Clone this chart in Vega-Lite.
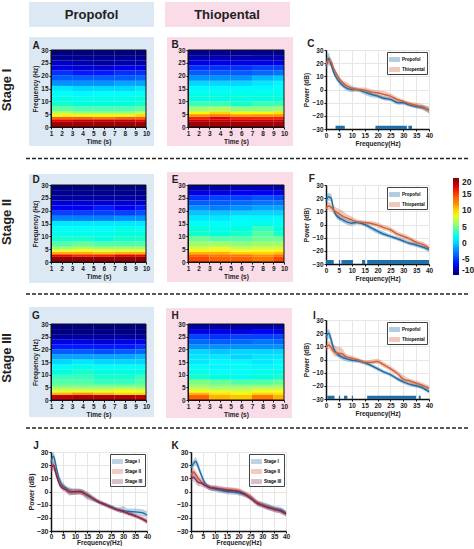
{
"$schema":"https://vega.github.io/schema/vega-lite/v6.json",
"padding":{"left":0,"top":2,"right":0,"bottom":0},
"background":"white",
"config":{
"view":{"stroke":null},
"range":{"heatmap":["#00007f","#0000ff","#007fff","#00ffff","#7fff7f","#ffff00","#ff7f00","#ff0000","#7f0000"]},
"axis":{"labelFont":"Liberation Sans","titleFont":"Liberation Sans","labelFontWeight":"bold","titleFontWeight":"bold","labelFontSize":6.5,"titleFontSize":6.5,"labelColor":"#222","titleColor":"#222","labelPadding":1,"tickSize":2,"titlePadding":2,"grid":false,"domainColor":"#111","tickColor":"#111","labelOverlap":false,"labelFlush":false,"gridColor":"#e6e6e6"},
"legend":{"labelFont":"Liberation Sans","labelFontWeight":"bold"},
"text":{"font":"Liberation Sans","fontWeight":"bold","color":"#222"}
},
"datasets":{
"A":[
{"t":1,"u":3,"f":0,"e":2,"v":19},{"t":3,"u":5,"f":0,"e":2,"v":19},{"t":5,"u":7,"f":0,"e":2,"v":19},{"t":7,"u":9,"f":0,"e":2,"v":19},{"t":9,"u":10,"f":0,"e":2,"v":19},
{"t":1,"u":3,"f":2,"e":3,"v":17},{"t":3,"u":5,"f":2,"e":3,"v":18},{"t":5,"u":7,"f":2,"e":3,"v":18},{"t":7,"u":9,"f":2,"e":3,"v":18},{"t":9,"u":10,"f":2,"e":3,"v":17},
{"t":1,"u":3,"f":3,"e":4,"v":14},{"t":3,"u":5,"f":3,"e":4,"v":14},{"t":5,"u":7,"f":3,"e":4,"v":13},{"t":7,"u":9,"f":3,"e":4,"v":14},{"t":9,"u":10,"f":3,"e":4,"v":14},
{"t":1,"u":3,"f":4,"e":5,"v":9},{"t":3,"u":5,"f":4,"e":5,"v":9},{"t":5,"u":7,"f":4,"e":5,"v":9},{"t":7,"u":9,"f":4,"e":5,"v":9},{"t":9,"u":10,"f":4,"e":5,"v":10},
{"t":1,"u":3,"f":5,"e":6,"v":7},{"t":3,"u":5,"f":5,"e":6,"v":6},{"t":5,"u":7,"f":5,"e":6,"v":6},{"t":7,"u":9,"f":5,"e":6,"v":6},{"t":9,"u":10,"f":5,"e":6,"v":7},
{"t":1,"u":3,"f":6,"e":8,"v":4.5},{"t":3,"u":5,"f":6,"e":8,"v":4},{"t":5,"u":7,"f":6,"e":8,"v":4},{"t":7,"u":9,"f":6,"e":8,"v":4},{"t":9,"u":10,"f":6,"e":8,"v":4.5},
{"t":1,"u":3,"f":8,"e":10,"v":3},{"t":3,"u":5,"f":8,"e":10,"v":2.5},{"t":5,"u":7,"f":8,"e":10,"v":2.5},{"t":7,"u":9,"f":8,"e":10,"v":2.5},{"t":9,"u":10,"f":8,"e":10,"v":3},
{"t":1,"u":3,"f":10,"e":12,"v":2},{"t":3,"u":5,"f":10,"e":12,"v":2},{"t":5,"u":7,"f":10,"e":12,"v":2},{"t":7,"u":9,"f":10,"e":12,"v":2},{"t":9,"u":10,"f":10,"e":12,"v":2.5},
{"t":1,"u":3,"f":12,"e":14,"v":1.5},{"t":3,"u":5,"f":12,"e":14,"v":1},{"t":5,"u":7,"f":12,"e":14,"v":1.5},{"t":7,"u":9,"f":12,"e":14,"v":1.5},{"t":9,"u":10,"f":12,"e":14,"v":1.5},
{"t":1,"u":3,"f":14,"e":16,"v":0.5},{"t":3,"u":5,"f":14,"e":16,"v":0},{"t":5,"u":7,"f":14,"e":16,"v":0},{"t":7,"u":9,"f":14,"e":16,"v":0},{"t":9,"u":10,"f":14,"e":16,"v":0.5},
{"t":1,"u":3,"f":16,"e":18,"v":-2},{"t":3,"u":5,"f":16,"e":18,"v":-2},{"t":5,"u":7,"f":16,"e":18,"v":-2},{"t":7,"u":9,"f":16,"e":18,"v":-1.5},{"t":9,"u":10,"f":16,"e":18,"v":-1.5},
{"t":1,"u":3,"f":18,"e":20,"v":-4},{"t":3,"u":5,"f":18,"e":20,"v":-4},{"t":5,"u":7,"f":18,"e":20,"v":-4},{"t":7,"u":9,"f":18,"e":20,"v":-4},{"t":9,"u":10,"f":18,"e":20,"v":-3.5},
{"t":1,"u":3,"f":20,"e":22,"v":-5.5},{"t":3,"u":5,"f":20,"e":22,"v":-6},{"t":5,"u":7,"f":20,"e":22,"v":-6},{"t":7,"u":9,"f":20,"e":22,"v":-5.5},{"t":9,"u":10,"f":20,"e":22,"v":-5.5},
{"t":1,"u":3,"f":22,"e":24,"v":-7},{"t":3,"u":5,"f":22,"e":24,"v":-7.5},{"t":5,"u":7,"f":22,"e":24,"v":-7.5},{"t":7,"u":9,"f":22,"e":24,"v":-7},{"t":9,"u":10,"f":22,"e":24,"v":-7},
{"t":1,"u":3,"f":24,"e":26,"v":-8},{"t":3,"u":5,"f":24,"e":26,"v":-8.5},{"t":5,"u":7,"f":24,"e":26,"v":-9},{"t":7,"u":9,"f":24,"e":26,"v":-8.5},{"t":9,"u":10,"f":24,"e":26,"v":-8.5},
{"t":1,"u":3,"f":26,"e":28,"v":-9.5},{"t":3,"u":5,"f":26,"e":28,"v":-9.5},{"t":5,"u":7,"f":26,"e":28,"v":-9.5},{"t":7,"u":9,"f":26,"e":28,"v":-9.5},{"t":9,"u":10,"f":26,"e":28,"v":-9.5},
{"t":1,"u":3,"f":28,"e":30,"v":-10},{"t":3,"u":5,"f":28,"e":30,"v":-10},{"t":5,"u":7,"f":28,"e":30,"v":-10},{"t":7,"u":9,"f":28,"e":30,"v":-10},{"t":9,"u":10,"f":28,"e":30,"v":-10}
],
"B":[
{"t":1,"u":3,"f":0,"e":2,"v":19},{"t":3,"u":5,"f":0,"e":2,"v":19},{"t":5,"u":7,"f":0,"e":2,"v":19},{"t":7,"u":9,"f":0,"e":2,"v":19},{"t":9,"u":10,"f":0,"e":2,"v":19},
{"t":1,"u":3,"f":2,"e":3,"v":18},{"t":3,"u":5,"f":2,"e":3,"v":18},{"t":5,"u":7,"f":2,"e":3,"v":18},{"t":7,"u":9,"f":2,"e":3,"v":18},{"t":9,"u":10,"f":2,"e":3,"v":18},
{"t":1,"u":3,"f":3,"e":4,"v":16},{"t":3,"u":5,"f":3,"e":4,"v":17},{"t":5,"u":7,"f":3,"e":4,"v":16},{"t":7,"u":9,"f":3,"e":4,"v":16},{"t":9,"u":10,"f":3,"e":4,"v":16},
{"t":1,"u":3,"f":4,"e":5,"v":12},{"t":3,"u":5,"f":4,"e":5,"v":13},{"t":5,"u":7,"f":4,"e":5,"v":12},{"t":7,"u":9,"f":4,"e":5,"v":12},{"t":9,"u":10,"f":4,"e":5,"v":12},
{"t":1,"u":3,"f":5,"e":6,"v":9},{"t":3,"u":5,"f":5,"e":6,"v":10},{"t":5,"u":7,"f":5,"e":6,"v":9},{"t":7,"u":9,"f":5,"e":6,"v":9},{"t":9,"u":10,"f":5,"e":6,"v":9.5},
{"t":1,"u":3,"f":6,"e":8,"v":6},{"t":3,"u":5,"f":6,"e":8,"v":6.5},{"t":5,"u":7,"f":6,"e":8,"v":5.5},{"t":7,"u":9,"f":6,"e":8,"v":5.5},{"t":9,"u":10,"f":6,"e":8,"v":6},
{"t":1,"u":3,"f":8,"e":10,"v":3.5},{"t":3,"u":5,"f":8,"e":10,"v":3.5},{"t":5,"u":7,"f":8,"e":10,"v":3},{"t":7,"u":9,"f":8,"e":10,"v":3.5},{"t":9,"u":10,"f":8,"e":10,"v":3.5},
{"t":1,"u":3,"f":10,"e":12,"v":2.5},{"t":3,"u":5,"f":10,"e":12,"v":2.5},{"t":5,"u":7,"f":10,"e":12,"v":2.5},{"t":7,"u":9,"f":10,"e":12,"v":2.5},{"t":9,"u":10,"f":10,"e":12,"v":2.5},
{"t":1,"u":3,"f":12,"e":14,"v":2},{"t":3,"u":5,"f":12,"e":14,"v":2},{"t":5,"u":7,"f":12,"e":14,"v":2},{"t":7,"u":9,"f":12,"e":14,"v":2},{"t":9,"u":10,"f":12,"e":14,"v":2},
{"t":1,"u":3,"f":14,"e":16,"v":1},{"t":3,"u":5,"f":14,"e":16,"v":1},{"t":5,"u":7,"f":14,"e":16,"v":1},{"t":7,"u":9,"f":14,"e":16,"v":1},{"t":9,"u":10,"f":14,"e":16,"v":1.5},
{"t":1,"u":3,"f":16,"e":18,"v":0},{"t":3,"u":5,"f":16,"e":18,"v":0},{"t":5,"u":7,"f":16,"e":18,"v":0},{"t":7,"u":9,"f":16,"e":18,"v":0.5},{"t":9,"u":10,"f":16,"e":18,"v":1},
{"t":1,"u":3,"f":18,"e":20,"v":-2},{"t":3,"u":5,"f":18,"e":20,"v":-2},{"t":5,"u":7,"f":18,"e":20,"v":-2},{"t":7,"u":9,"f":18,"e":20,"v":-1},{"t":9,"u":10,"f":18,"e":20,"v":-0.5},
{"t":1,"u":3,"f":20,"e":22,"v":-4},{"t":3,"u":5,"f":20,"e":22,"v":-4},{"t":5,"u":7,"f":20,"e":22,"v":-4},{"t":7,"u":9,"f":20,"e":22,"v":-3.5},{"t":9,"u":10,"f":20,"e":22,"v":-3},
{"t":1,"u":3,"f":22,"e":24,"v":-5.5},{"t":3,"u":5,"f":22,"e":24,"v":-5.5},{"t":5,"u":7,"f":22,"e":24,"v":-5.5},{"t":7,"u":9,"f":22,"e":24,"v":-5},{"t":9,"u":10,"f":22,"e":24,"v":-5},
{"t":1,"u":3,"f":24,"e":26,"v":-7},{"t":3,"u":5,"f":24,"e":26,"v":-7},{"t":5,"u":7,"f":24,"e":26,"v":-7},{"t":7,"u":9,"f":24,"e":26,"v":-7},{"t":9,"u":10,"f":24,"e":26,"v":-7},
{"t":1,"u":3,"f":26,"e":28,"v":-8.5},{"t":3,"u":5,"f":26,"e":28,"v":-8.5},{"t":5,"u":7,"f":26,"e":28,"v":-8.5},{"t":7,"u":9,"f":26,"e":28,"v":-8.5},{"t":9,"u":10,"f":26,"e":28,"v":-8.5},
{"t":1,"u":3,"f":28,"e":30,"v":-9.5},{"t":3,"u":5,"f":28,"e":30,"v":-9.5},{"t":5,"u":7,"f":28,"e":30,"v":-9.5},{"t":7,"u":9,"f":28,"e":30,"v":-9.5},{"t":9,"u":10,"f":28,"e":30,"v":-9.5}
],
"D":[
{"t":1,"u":3,"f":0,"e":2,"v":19.5},{"t":3,"u":5,"f":0,"e":2,"v":19.5},{"t":5,"u":7,"f":0,"e":2,"v":19.5},{"t":7,"u":9,"f":0,"e":2,"v":19.5},{"t":9,"u":10,"f":0,"e":2,"v":19.5},
{"t":1,"u":3,"f":2,"e":3,"v":16.5},{"t":3,"u":5,"f":2,"e":3,"v":16},{"t":5,"u":7,"f":2,"e":3,"v":16},{"t":7,"u":9,"f":2,"e":3,"v":17},{"t":9,"u":10,"f":2,"e":3,"v":16.5},
{"t":1,"u":3,"f":3,"e":4,"v":11},{"t":3,"u":5,"f":3,"e":4,"v":11},{"t":5,"u":7,"f":3,"e":4,"v":10.5},{"t":7,"u":9,"f":3,"e":4,"v":11},{"t":9,"u":10,"f":3,"e":4,"v":11},
{"t":1,"u":3,"f":4,"e":5,"v":8},{"t":3,"u":5,"f":4,"e":5,"v":8.5},{"t":5,"u":7,"f":4,"e":5,"v":8},{"t":7,"u":9,"f":4,"e":5,"v":8},{"t":9,"u":10,"f":4,"e":5,"v":8},
{"t":1,"u":3,"f":5,"e":6,"v":6},{"t":3,"u":5,"f":5,"e":6,"v":6.5},{"t":5,"u":7,"f":5,"e":6,"v":6},{"t":7,"u":9,"f":5,"e":6,"v":6},{"t":9,"u":10,"f":5,"e":6,"v":6},
{"t":1,"u":3,"f":6,"e":8,"v":4},{"t":3,"u":5,"f":6,"e":8,"v":4.5},{"t":5,"u":7,"f":6,"e":8,"v":4},{"t":7,"u":9,"f":6,"e":8,"v":4},{"t":9,"u":10,"f":6,"e":8,"v":4},
{"t":1,"u":3,"f":8,"e":10,"v":3},{"t":3,"u":5,"f":8,"e":10,"v":3},{"t":5,"u":7,"f":8,"e":10,"v":2.5},{"t":7,"u":9,"f":8,"e":10,"v":3},{"t":9,"u":10,"f":8,"e":10,"v":3},
{"t":1,"u":3,"f":10,"e":12,"v":2},{"t":3,"u":5,"f":10,"e":12,"v":2},{"t":5,"u":7,"f":10,"e":12,"v":2},{"t":7,"u":9,"f":10,"e":12,"v":2.5},{"t":9,"u":10,"f":10,"e":12,"v":2.5},
{"t":1,"u":3,"f":12,"e":14,"v":1.5},{"t":3,"u":5,"f":12,"e":14,"v":1.5},{"t":5,"u":7,"f":12,"e":14,"v":1.5},{"t":7,"u":9,"f":12,"e":14,"v":2},{"t":9,"u":10,"f":12,"e":14,"v":1.5},
{"t":1,"u":3,"f":14,"e":16,"v":0.5},{"t":3,"u":5,"f":14,"e":16,"v":0.5},{"t":5,"u":7,"f":14,"e":16,"v":0.5},{"t":7,"u":9,"f":14,"e":16,"v":0.5},{"t":9,"u":10,"f":14,"e":16,"v":0.5},
{"t":1,"u":3,"f":16,"e":18,"v":-2.5},{"t":3,"u":5,"f":16,"e":18,"v":-2.5},{"t":5,"u":7,"f":16,"e":18,"v":-2.5},{"t":7,"u":9,"f":16,"e":18,"v":-2},{"t":9,"u":10,"f":16,"e":18,"v":-2},
{"t":1,"u":3,"f":18,"e":20,"v":-5},{"t":3,"u":5,"f":18,"e":20,"v":-5},{"t":5,"u":7,"f":18,"e":20,"v":-5},{"t":7,"u":9,"f":18,"e":20,"v":-5},{"t":9,"u":10,"f":18,"e":20,"v":-4.5},
{"t":1,"u":3,"f":20,"e":22,"v":-6.5},{"t":3,"u":5,"f":20,"e":22,"v":-6.5},{"t":5,"u":7,"f":20,"e":22,"v":-6},{"t":7,"u":9,"f":20,"e":22,"v":-6.5},{"t":9,"u":10,"f":20,"e":22,"v":-6},
{"t":1,"u":3,"f":22,"e":24,"v":-7.5},{"t":3,"u":5,"f":22,"e":24,"v":-7.5},{"t":5,"u":7,"f":22,"e":24,"v":-7.5},{"t":7,"u":9,"f":22,"e":24,"v":-7.5},{"t":9,"u":10,"f":22,"e":24,"v":-7.5},
{"t":1,"u":3,"f":24,"e":26,"v":-9},{"t":3,"u":5,"f":24,"e":26,"v":-9},{"t":5,"u":7,"f":24,"e":26,"v":-9},{"t":7,"u":9,"f":24,"e":26,"v":-9},{"t":9,"u":10,"f":24,"e":26,"v":-9},
{"t":1,"u":3,"f":26,"e":28,"v":-9.5},{"t":3,"u":5,"f":26,"e":28,"v":-9.5},{"t":5,"u":7,"f":26,"e":28,"v":-9.5},{"t":7,"u":9,"f":26,"e":28,"v":-9.5},{"t":9,"u":10,"f":26,"e":28,"v":-9.5},
{"t":1,"u":3,"f":28,"e":30,"v":-10},{"t":3,"u":5,"f":28,"e":30,"v":-10},{"t":5,"u":7,"f":28,"e":30,"v":-10},{"t":7,"u":9,"f":28,"e":30,"v":-10},{"t":9,"u":10,"f":28,"e":30,"v":-10}
],
"E":[
{"t":1,"u":3,"f":0,"e":2,"v":15},{"t":3,"u":5,"f":0,"e":2,"v":14},{"t":5,"u":7,"f":0,"e":2,"v":14},{"t":7,"u":9,"f":0,"e":2,"v":13},{"t":9,"u":10,"f":0,"e":2,"v":15},
{"t":1,"u":3,"f":2,"e":3,"v":14},{"t":3,"u":5,"f":2,"e":3,"v":13},{"t":5,"u":7,"f":2,"e":3,"v":13},{"t":7,"u":9,"f":2,"e":3,"v":12},{"t":9,"u":10,"f":2,"e":3,"v":13},
{"t":1,"u":3,"f":3,"e":4,"v":11},{"t":3,"u":5,"f":3,"e":4,"v":11},{"t":5,"u":7,"f":3,"e":4,"v":10},{"t":7,"u":9,"f":3,"e":4,"v":10},{"t":9,"u":10,"f":3,"e":4,"v":10.5},
{"t":1,"u":3,"f":4,"e":5,"v":9},{"t":3,"u":5,"f":4,"e":5,"v":9},{"t":5,"u":7,"f":4,"e":5,"v":8.5},{"t":7,"u":9,"f":4,"e":5,"v":8.5},{"t":9,"u":10,"f":4,"e":5,"v":9},
{"t":1,"u":3,"f":5,"e":6,"v":7.5},{"t":3,"u":5,"f":5,"e":6,"v":8},{"t":5,"u":7,"f":5,"e":6,"v":7},{"t":7,"u":9,"f":5,"e":6,"v":7.5},{"t":9,"u":10,"f":5,"e":6,"v":7.5},
{"t":1,"u":3,"f":6,"e":8,"v":6},{"t":3,"u":5,"f":6,"e":8,"v":6},{"t":5,"u":7,"f":6,"e":8,"v":5.5},{"t":7,"u":9,"f":6,"e":8,"v":6},{"t":9,"u":10,"f":6,"e":8,"v":6},
{"t":1,"u":3,"f":8,"e":10,"v":4.5},{"t":3,"u":5,"f":8,"e":10,"v":4},{"t":5,"u":7,"f":8,"e":10,"v":4},{"t":7,"u":9,"f":8,"e":10,"v":4.5},{"t":9,"u":10,"f":8,"e":10,"v":4.5},
{"t":1,"u":3,"f":10,"e":12,"v":3},{"t":3,"u":5,"f":10,"e":12,"v":2.5},{"t":5,"u":7,"f":10,"e":12,"v":3},{"t":7,"u":9,"f":10,"e":12,"v":4},{"t":9,"u":10,"f":10,"e":12,"v":3},
{"t":1,"u":3,"f":12,"e":14,"v":2.5},{"t":3,"u":5,"f":12,"e":14,"v":2},{"t":5,"u":7,"f":12,"e":14,"v":2.5},{"t":7,"u":9,"f":12,"e":14,"v":3.5},{"t":9,"u":10,"f":12,"e":14,"v":2.5},
{"t":1,"u":3,"f":14,"e":16,"v":1.5},{"t":3,"u":5,"f":14,"e":16,"v":1.5},{"t":5,"u":7,"f":14,"e":16,"v":1.5},{"t":7,"u":9,"f":14,"e":16,"v":2},{"t":9,"u":10,"f":14,"e":16,"v":1.5},
{"t":1,"u":3,"f":16,"e":18,"v":0.5},{"t":3,"u":5,"f":16,"e":18,"v":0.5},{"t":5,"u":7,"f":16,"e":18,"v":1},{"t":7,"u":9,"f":16,"e":18,"v":1},{"t":9,"u":10,"f":16,"e":18,"v":1},
{"t":1,"u":3,"f":18,"e":20,"v":-0.5},{"t":3,"u":5,"f":18,"e":20,"v":-0.5},{"t":5,"u":7,"f":18,"e":20,"v":0},{"t":7,"u":9,"f":18,"e":20,"v":0},{"t":9,"u":10,"f":18,"e":20,"v":0},
{"t":1,"u":3,"f":20,"e":22,"v":-2},{"t":3,"u":5,"f":20,"e":22,"v":-2.5},{"t":5,"u":7,"f":20,"e":22,"v":-2},{"t":7,"u":9,"f":20,"e":22,"v":-1.5},{"t":9,"u":10,"f":20,"e":22,"v":-1.5},
{"t":1,"u":3,"f":22,"e":24,"v":-4},{"t":3,"u":5,"f":22,"e":24,"v":-4},{"t":5,"u":7,"f":22,"e":24,"v":-3.5},{"t":7,"u":9,"f":22,"e":24,"v":-3},{"t":9,"u":10,"f":22,"e":24,"v":-3},
{"t":1,"u":3,"f":24,"e":26,"v":-5.5},{"t":3,"u":5,"f":24,"e":26,"v":-5},{"t":5,"u":7,"f":24,"e":26,"v":-5},{"t":7,"u":9,"f":24,"e":26,"v":-4.5},{"t":9,"u":10,"f":24,"e":26,"v":-5},
{"t":1,"u":3,"f":26,"e":28,"v":-7},{"t":3,"u":5,"f":26,"e":28,"v":-7},{"t":5,"u":7,"f":26,"e":28,"v":-6.5},{"t":7,"u":9,"f":26,"e":28,"v":-6.5},{"t":9,"u":10,"f":26,"e":28,"v":-7},
{"t":1,"u":3,"f":28,"e":30,"v":-9},{"t":3,"u":5,"f":28,"e":30,"v":-9},{"t":5,"u":7,"f":28,"e":30,"v":-8.5},{"t":7,"u":9,"f":28,"e":30,"v":-8.5},{"t":9,"u":10,"f":28,"e":30,"v":-9}
],
"G":[
{"t":1,"u":3,"f":0,"e":2,"v":18},{"t":3,"u":5,"f":0,"e":2,"v":18.5},{"t":5,"u":7,"f":0,"e":2,"v":18.5},{"t":7,"u":9,"f":0,"e":2,"v":18.5},{"t":9,"u":10,"f":0,"e":2,"v":18},
{"t":1,"u":3,"f":2,"e":3,"v":11},{"t":3,"u":5,"f":2,"e":3,"v":12},{"t":5,"u":7,"f":2,"e":3,"v":11},{"t":7,"u":9,"f":2,"e":3,"v":10},{"t":9,"u":10,"f":2,"e":3,"v":10},
{"t":1,"u":3,"f":3,"e":4,"v":8},{"t":3,"u":5,"f":3,"e":4,"v":8},{"t":5,"u":7,"f":3,"e":4,"v":8},{"t":7,"u":9,"f":3,"e":4,"v":8.5},{"t":9,"u":10,"f":3,"e":4,"v":8},
{"t":1,"u":3,"f":4,"e":5,"v":6.5},{"t":3,"u":5,"f":4,"e":5,"v":6.5},{"t":5,"u":7,"f":4,"e":5,"v":6.5},{"t":7,"u":9,"f":4,"e":5,"v":7},{"t":9,"u":10,"f":4,"e":5,"v":6.5},
{"t":1,"u":3,"f":5,"e":6,"v":5},{"t":3,"u":5,"f":5,"e":6,"v":5},{"t":5,"u":7,"f":5,"e":6,"v":5},{"t":7,"u":9,"f":5,"e":6,"v":5},{"t":9,"u":10,"f":5,"e":6,"v":5},
{"t":1,"u":3,"f":6,"e":8,"v":4},{"t":3,"u":5,"f":6,"e":8,"v":4},{"t":5,"u":7,"f":6,"e":8,"v":3.5},{"t":7,"u":9,"f":6,"e":8,"v":3.5},{"t":9,"u":10,"f":6,"e":8,"v":4},
{"t":1,"u":3,"f":8,"e":10,"v":3.5},{"t":3,"u":5,"f":8,"e":10,"v":3.5},{"t":5,"u":7,"f":8,"e":10,"v":3},{"t":7,"u":9,"f":8,"e":10,"v":3},{"t":9,"u":10,"f":8,"e":10,"v":3.5},
{"t":1,"u":3,"f":10,"e":12,"v":2.5},{"t":3,"u":5,"f":10,"e":12,"v":3},{"t":5,"u":7,"f":10,"e":12,"v":2.5},{"t":7,"u":9,"f":10,"e":12,"v":2.5},{"t":9,"u":10,"f":10,"e":12,"v":2.5},
{"t":1,"u":3,"f":12,"e":14,"v":1.5},{"t":3,"u":5,"f":12,"e":14,"v":2},{"t":5,"u":7,"f":12,"e":14,"v":1.5},{"t":7,"u":9,"f":12,"e":14,"v":1.5},{"t":9,"u":10,"f":12,"e":14,"v":1.5},
{"t":1,"u":3,"f":14,"e":16,"v":0},{"t":3,"u":5,"f":14,"e":16,"v":0.5},{"t":5,"u":7,"f":14,"e":16,"v":0},{"t":7,"u":9,"f":14,"e":16,"v":0},{"t":9,"u":10,"f":14,"e":16,"v":0},
{"t":1,"u":3,"f":16,"e":18,"v":-1.5},{"t":3,"u":5,"f":16,"e":18,"v":-1.5},{"t":5,"u":7,"f":16,"e":18,"v":-1.5},{"t":7,"u":9,"f":16,"e":18,"v":-1.5},{"t":9,"u":10,"f":16,"e":18,"v":-1},
{"t":1,"u":3,"f":18,"e":20,"v":-4},{"t":3,"u":5,"f":18,"e":20,"v":-4},{"t":5,"u":7,"f":18,"e":20,"v":-4.5},{"t":7,"u":9,"f":18,"e":20,"v":-4},{"t":9,"u":10,"f":18,"e":20,"v":-3.5},
{"t":1,"u":3,"f":20,"e":22,"v":-6},{"t":3,"u":5,"f":20,"e":22,"v":-6},{"t":5,"u":7,"f":20,"e":22,"v":-6},{"t":7,"u":9,"f":20,"e":22,"v":-6},{"t":9,"u":10,"f":20,"e":22,"v":-5.5},
{"t":1,"u":3,"f":22,"e":24,"v":-7},{"t":3,"u":5,"f":22,"e":24,"v":-7},{"t":5,"u":7,"f":22,"e":24,"v":-7.5},{"t":7,"u":9,"f":22,"e":24,"v":-7},{"t":9,"u":10,"f":22,"e":24,"v":-7},
{"t":1,"u":3,"f":24,"e":26,"v":-9},{"t":3,"u":5,"f":24,"e":26,"v":-9},{"t":5,"u":7,"f":24,"e":26,"v":-9},{"t":7,"u":9,"f":24,"e":26,"v":-9},{"t":9,"u":10,"f":24,"e":26,"v":-9},
{"t":1,"u":3,"f":26,"e":28,"v":-10},{"t":3,"u":5,"f":26,"e":28,"v":-10},{"t":5,"u":7,"f":26,"e":28,"v":-10},{"t":7,"u":9,"f":26,"e":28,"v":-10},{"t":9,"u":10,"f":26,"e":28,"v":-10},
{"t":1,"u":3,"f":28,"e":30,"v":-10},{"t":3,"u":5,"f":28,"e":30,"v":-10},{"t":5,"u":7,"f":28,"e":30,"v":-10},{"t":7,"u":9,"f":28,"e":30,"v":-10},{"t":9,"u":10,"f":28,"e":30,"v":-10}
],
"H":[
{"t":1,"u":3,"f":0,"e":2,"v":14},{"t":3,"u":5,"f":0,"e":2,"v":11},{"t":5,"u":7,"f":0,"e":2,"v":10.5},{"t":7,"u":9,"f":0,"e":2,"v":13},{"t":9,"u":10,"f":0,"e":2,"v":11},
{"t":1,"u":3,"f":2,"e":3,"v":11},{"t":3,"u":5,"f":2,"e":3,"v":9.5},{"t":5,"u":7,"f":2,"e":3,"v":9},{"t":7,"u":9,"f":2,"e":3,"v":10},{"t":9,"u":10,"f":2,"e":3,"v":9.5},
{"t":1,"u":3,"f":3,"e":4,"v":8.5},{"t":3,"u":5,"f":3,"e":4,"v":8},{"t":5,"u":7,"f":3,"e":4,"v":7.5},{"t":7,"u":9,"f":3,"e":4,"v":8.5},{"t":9,"u":10,"f":3,"e":4,"v":8.5},
{"t":1,"u":3,"f":4,"e":5,"v":7},{"t":3,"u":5,"f":4,"e":5,"v":6.5},{"t":5,"u":7,"f":4,"e":5,"v":6.5},{"t":7,"u":9,"f":4,"e":5,"v":7},{"t":9,"u":10,"f":4,"e":5,"v":7},
{"t":1,"u":3,"f":5,"e":6,"v":6},{"t":3,"u":5,"f":5,"e":6,"v":5.5},{"t":5,"u":7,"f":5,"e":6,"v":5.5},{"t":7,"u":9,"f":5,"e":6,"v":5.5},{"t":9,"u":10,"f":5,"e":6,"v":6},
{"t":1,"u":3,"f":6,"e":8,"v":5},{"t":3,"u":5,"f":6,"e":8,"v":4.5},{"t":5,"u":7,"f":6,"e":8,"v":4},{"t":7,"u":9,"f":6,"e":8,"v":4},{"t":9,"u":10,"f":6,"e":8,"v":4.5},
{"t":1,"u":3,"f":8,"e":10,"v":3},{"t":3,"u":5,"f":8,"e":10,"v":2.5},{"t":5,"u":7,"f":8,"e":10,"v":2},{"t":7,"u":9,"f":8,"e":10,"v":2.5},{"t":9,"u":10,"f":8,"e":10,"v":3},
{"t":1,"u":3,"f":10,"e":12,"v":2},{"t":3,"u":5,"f":10,"e":12,"v":1.5},{"t":5,"u":7,"f":10,"e":12,"v":1.5},{"t":7,"u":9,"f":10,"e":12,"v":2},{"t":9,"u":10,"f":10,"e":12,"v":2},
{"t":1,"u":3,"f":12,"e":14,"v":1.5},{"t":3,"u":5,"f":12,"e":14,"v":1},{"t":5,"u":7,"f":12,"e":14,"v":1.5},{"t":7,"u":9,"f":12,"e":14,"v":1},{"t":9,"u":10,"f":12,"e":14,"v":1.5},
{"t":1,"u":3,"f":14,"e":16,"v":0.5},{"t":3,"u":5,"f":14,"e":16,"v":1},{"t":5,"u":7,"f":14,"e":16,"v":1},{"t":7,"u":9,"f":14,"e":16,"v":0.5},{"t":9,"u":10,"f":14,"e":16,"v":1},
{"t":1,"u":3,"f":16,"e":18,"v":0.5},{"t":3,"u":5,"f":16,"e":18,"v":0.5},{"t":5,"u":7,"f":16,"e":18,"v":0},{"t":7,"u":9,"f":16,"e":18,"v":0.5},{"t":9,"u":10,"f":16,"e":18,"v":0.5},
{"t":1,"u":3,"f":18,"e":20,"v":0},{"t":3,"u":5,"f":18,"e":20,"v":-0.5},{"t":5,"u":7,"f":18,"e":20,"v":0},{"t":7,"u":9,"f":18,"e":20,"v":0},{"t":9,"u":10,"f":18,"e":20,"v":0},
{"t":1,"u":3,"f":20,"e":22,"v":-2},{"t":3,"u":5,"f":20,"e":22,"v":-2},{"t":5,"u":7,"f":20,"e":22,"v":-2},{"t":7,"u":9,"f":20,"e":22,"v":-2},{"t":9,"u":10,"f":20,"e":22,"v":-2},
{"t":1,"u":3,"f":22,"e":24,"v":-3.5},{"t":3,"u":5,"f":22,"e":24,"v":-4},{"t":5,"u":7,"f":22,"e":24,"v":-3.5},{"t":7,"u":9,"f":22,"e":24,"v":-3},{"t":9,"u":10,"f":22,"e":24,"v":-3.5},
{"t":1,"u":3,"f":24,"e":26,"v":-5},{"t":3,"u":5,"f":24,"e":26,"v":-5.5},{"t":5,"u":7,"f":24,"e":26,"v":-5},{"t":7,"u":9,"f":24,"e":26,"v":-5},{"t":9,"u":10,"f":24,"e":26,"v":-5},
{"t":1,"u":3,"f":26,"e":28,"v":-7},{"t":3,"u":5,"f":26,"e":28,"v":-7},{"t":5,"u":7,"f":26,"e":28,"v":-7},{"t":7,"u":9,"f":26,"e":28,"v":-6.5},{"t":9,"u":10,"f":26,"e":28,"v":-7},
{"t":1,"u":3,"f":28,"e":30,"v":-9},{"t":3,"u":5,"f":28,"e":30,"v":-9},{"t":5,"u":7,"f":28,"e":30,"v":-9},{"t":7,"u":9,"f":28,"e":30,"v":-9},{"t":9,"u":10,"f":28,"e":30,"v":-9}
],
"C":[
{"f":0,"s":"Propofol","p":18,"l":15,"h":22},{"f":1,"s":"Propofol","p":23.5,"l":20,"h":28},{"f":2,"s":"Propofol","p":19,"l":16,"h":22},{"f":3,"s":"Propofol","p":13,"l":11,"h":15},{"f":4,"s":"Propofol","p":9,"l":7,"h":11},{"f":6,"s":"Propofol","p":4,"l":2,"h":6},{"f":8,"s":"Propofol","p":1,"l":-1,"h":3},{"f":10,"s":"Propofol","p":0,"l":-2,"h":2},{"f":12,"s":"Propofol","p":0,"l":-1.5,"h":1.5},{"f":15,"s":"Propofol","p":-2,"l":-4,"h":0},{"f":18,"s":"Propofol","p":-4,"l":-6,"h":-2.5},{"f":20,"s":"Propofol","p":-5,"l":-6.5,"h":-3.5},{"f":22,"s":"Propofol","p":-6.5,"l":-8,"h":-5},{"f":25,"s":"Propofol","p":-7.5,"l":-9,"h":-6},{"f":28,"s":"Propofol","p":-10,"l":-11.5,"h":-8.5},{"f":30,"s":"Propofol","p":-10,"l":-11.5,"h":-8.5},{"f":32,"s":"Propofol","p":-11.5,"l":-13,"h":-10},{"f":35,"s":"Propofol","p":-13,"l":-14.5,"h":-11.5},{"f":38,"s":"Propofol","p":-14,"l":-16,"h":-12},{"f":40,"s":"Propofol","p":-15.5,"l":-18,"h":-13},
{"f":0,"s":"Thiopental","p":19,"l":15,"h":22},{"f":1,"s":"Thiopental","p":22,"l":18,"h":25},{"f":2,"s":"Thiopental","p":21,"l":18,"h":24},{"f":3,"s":"Thiopental","p":16,"l":14,"h":18},{"f":4,"s":"Thiopental","p":12,"l":10,"h":14},{"f":6,"s":"Thiopental","p":6,"l":4,"h":8},{"f":8,"s":"Thiopental","p":3,"l":1,"h":5.5},{"f":10,"s":"Thiopental","p":1,"l":-1,"h":3},{"f":12,"s":"Thiopental","p":0,"l":-1.5,"h":1.5},{"f":15,"s":"Thiopental","p":-0.5,"l":-2,"h":1.5},{"f":18,"s":"Thiopental","p":-2,"l":-4,"h":0},{"f":20,"s":"Thiopental","p":-2.5,"l":-4.5,"h":-0.5},{"f":22,"s":"Thiopental","p":-3.5,"l":-6,"h":-1},{"f":25,"s":"Thiopental","p":-5,"l":-7,"h":-3},{"f":28,"s":"Thiopental","p":-8,"l":-10,"h":-6},{"f":30,"s":"Thiopental","p":-9,"l":-11,"h":-7.5},{"f":32,"s":"Thiopental","p":-10.5,"l":-12.5,"h":-9},{"f":35,"s":"Thiopental","p":-12,"l":-14,"h":-10},{"f":38,"s":"Thiopental","p":-13.5,"l":-15.5,"h":-11.5},{"f":40,"s":"Thiopental","p":-16,"l":-18.5,"h":-14}
],
"F":[
{"f":0,"s":"Propofol","p":18,"l":15,"h":21},{"f":1,"s":"Propofol","p":21,"l":18,"h":24},{"f":2,"s":"Propofol","p":20,"l":17,"h":23},{"f":3,"s":"Propofol","p":11,"l":9,"h":13},{"f":4,"s":"Propofol","p":7,"l":5,"h":9},{"f":6,"s":"Propofol","p":4,"l":2,"h":6},{"f":8,"s":"Propofol","p":2,"l":0,"h":4},{"f":10,"s":"Propofol","p":1,"l":-1,"h":3},{"f":12,"s":"Propofol","p":1.5,"l":0,"h":3},{"f":15,"s":"Propofol","p":0,"l":-1.5,"h":1.5},{"f":18,"s":"Propofol","p":-3,"l":-5,"h":-1.5},{"f":20,"s":"Propofol","p":-5,"l":-7,"h":-3.5},{"f":22,"s":"Propofol","p":-7,"l":-8.5,"h":-5},{"f":25,"s":"Propofol","p":-9,"l":-10.5,"h":-7.5},{"f":28,"s":"Propofol","p":-11,"l":-12.5,"h":-9.5},{"f":30,"s":"Propofol","p":-12.5,"l":-14,"h":-11},{"f":32,"s":"Propofol","p":-14,"l":-15.5,"h":-12.5},{"f":35,"s":"Propofol","p":-15.5,"l":-17,"h":-14},{"f":38,"s":"Propofol","p":-17.5,"l":-19,"h":-16},{"f":40,"s":"Propofol","p":-19,"l":-21,"h":-17},
{"f":0,"s":"Thiopental","p":12,"l":9,"h":15},{"f":1,"s":"Thiopental","p":14,"l":11,"h":17},{"f":2,"s":"Thiopental","p":13,"l":10,"h":16},{"f":3,"s":"Thiopental","p":11,"l":8,"h":14},{"f":4,"s":"Thiopental","p":9.5,"l":7,"h":13},{"f":6,"s":"Thiopental","p":7,"l":4.5,"h":11},{"f":8,"s":"Thiopental","p":5,"l":3,"h":8},{"f":10,"s":"Thiopental","p":3.5,"l":1.5,"h":6},{"f":12,"s":"Thiopental","p":2,"l":0.5,"h":4},{"f":15,"s":"Thiopental","p":1.5,"l":0,"h":3},{"f":18,"s":"Thiopental","p":0.5,"l":-1,"h":2.5},{"f":20,"s":"Thiopental","p":-0.5,"l":-2.5,"h":1.5},{"f":22,"s":"Thiopental","p":-2,"l":-4,"h":0},{"f":25,"s":"Thiopental","p":-4,"l":-6,"h":-2},{"f":28,"s":"Thiopental","p":-7.5,"l":-9.5,"h":-5.5},{"f":30,"s":"Thiopental","p":-9,"l":-11,"h":-7},{"f":32,"s":"Thiopental","p":-10.5,"l":-12.5,"h":-8.5},{"f":35,"s":"Thiopental","p":-13.5,"l":-15.5,"h":-11.5},{"f":38,"s":"Thiopental","p":-15.5,"l":-17.5,"h":-13.5},{"f":40,"s":"Thiopental","p":-18,"l":-20,"h":-16}
],
"I":[
{"f":0,"s":"Propofol","p":17,"l":13,"h":20},{"f":1,"s":"Propofol","p":20,"l":16,"h":23},{"f":2,"s":"Propofol","p":15,"l":12,"h":19},{"f":3,"s":"Propofol","p":8,"l":6,"h":11},{"f":4,"s":"Propofol","p":5,"l":3,"h":7},{"f":6,"s":"Propofol","p":2,"l":0,"h":4},{"f":8,"s":"Propofol","p":0.5,"l":-1.5,"h":2.5},{"f":10,"s":"Propofol","p":-0.5,"l":-2,"h":1},{"f":12,"s":"Propofol","p":-1,"l":-2.5,"h":0.5},{"f":15,"s":"Propofol","p":-2.5,"l":-4,"h":-1},{"f":18,"s":"Propofol","p":-5,"l":-6.5,"h":-3.5},{"f":20,"s":"Propofol","p":-7,"l":-8.5,"h":-5.5},{"f":22,"s":"Propofol","p":-9,"l":-10.5,"h":-7.5},{"f":25,"s":"Propofol","p":-11.5,"l":-13,"h":-10},{"f":28,"s":"Propofol","p":-15,"l":-16.5,"h":-13.5},{"f":30,"s":"Propofol","p":-17,"l":-18.5,"h":-15.5},{"f":32,"s":"Propofol","p":-18.5,"l":-20,"h":-17},{"f":35,"s":"Propofol","p":-20,"l":-21.5,"h":-18.5},{"f":38,"s":"Propofol","p":-22,"l":-23.5,"h":-20.5},{"f":40,"s":"Propofol","p":-24.5,"l":-26,"h":-23},
{"f":0,"s":"Thiopental","p":9,"l":6,"h":12},{"f":1,"s":"Thiopental","p":11,"l":8,"h":14},{"f":2,"s":"Thiopental","p":9,"l":6,"h":13},{"f":3,"s":"Thiopental","p":6,"l":3,"h":11},{"f":4,"s":"Thiopental","p":5,"l":2,"h":10},{"f":6,"s":"Thiopental","p":4.5,"l":2,"h":9},{"f":8,"s":"Thiopental","p":2,"l":0,"h":4},{"f":10,"s":"Thiopental","p":1,"l":-1,"h":3},{"f":12,"s":"Thiopental","p":0,"l":-1.5,"h":1.5},{"f":15,"s":"Thiopental","p":-2,"l":-3.5,"h":-0.5},{"f":18,"s":"Thiopental","p":-2,"l":-3.5,"h":0},{"f":20,"s":"Thiopental","p":-1.5,"l":-3.5,"h":0.5},{"f":22,"s":"Thiopental","p":-3.5,"l":-5.5,"h":-1.5},{"f":25,"s":"Thiopental","p":-7,"l":-9,"h":-5},{"f":28,"s":"Thiopental","p":-11,"l":-13,"h":-9},{"f":30,"s":"Thiopental","p":-15,"l":-17,"h":-12},{"f":32,"s":"Thiopental","p":-16,"l":-18,"h":-14},{"f":35,"s":"Thiopental","p":-18,"l":-20,"h":-16},{"f":38,"s":"Thiopental","p":-20,"l":-22,"h":-18},{"f":40,"s":"Thiopental","p":-22,"l":-24,"h":-20}
],
"J":[
{"f":0,"s":"Stage I","p":22,"l":18,"h":26},{"f":1,"s":"Stage I","p":27,"l":23,"h":30},{"f":2,"s":"Stage I","p":20,"l":17,"h":24},{"f":3,"s":"Stage I","p":12,"l":10,"h":15},{"f":4,"s":"Stage I","p":7,"l":5,"h":10},{"f":6,"s":"Stage I","p":3,"l":1,"h":5},{"f":8,"s":"Stage I","p":0.5,"l":-2,"h":3},{"f":10,"s":"Stage I","p":-0.5,"l":-2.5,"h":1.5},{"f":12,"s":"Stage I","p":0,"l":-2,"h":2},{"f":15,"s":"Stage I","p":-2.5,"l":-6,"h":-0.5},{"f":18,"s":"Stage I","p":-6,"l":-8,"h":-4},{"f":20,"s":"Stage I","p":-8,"l":-9.5,"h":-6.5},{"f":22,"s":"Stage I","p":-9.5,"l":-11,"h":-8},{"f":25,"s":"Stage I","p":-11.5,"l":-13,"h":-10},{"f":28,"s":"Stage I","p":-14,"l":-15.5,"h":-12},{"f":30,"s":"Stage I","p":-14.5,"l":-16.5,"h":-11},{"f":32,"s":"Stage I","p":-15,"l":-17,"h":-13},{"f":35,"s":"Stage I","p":-15.5,"l":-18,"h":-13},{"f":38,"s":"Stage I","p":-16,"l":-19,"h":-13.5},{"f":40,"s":"Stage I","p":-18,"l":-20,"h":-15},
{"f":0,"s":"Stage II","p":18,"l":14,"h":21},{"f":1,"s":"Stage II","p":20,"l":17,"h":23},{"f":2,"s":"Stage II","p":15,"l":12,"h":18},{"f":3,"s":"Stage II","p":9,"l":7,"h":11},{"f":4,"s":"Stage II","p":5,"l":3,"h":7},{"f":6,"s":"Stage II","p":2,"l":0,"h":4},{"f":8,"s":"Stage II","p":0,"l":-2.5,"h":2},{"f":10,"s":"Stage II","p":-0.5,"l":-2.5,"h":1.5},{"f":12,"s":"Stage II","p":-0.5,"l":-2.5,"h":1.5},{"f":15,"s":"Stage II","p":-3,"l":-5,"h":-1},{"f":18,"s":"Stage II","p":-6,"l":-7.5,"h":-4.5},{"f":20,"s":"Stage II","p":-8,"l":-9.5,"h":-6.5},{"f":22,"s":"Stage II","p":-9.5,"l":-11,"h":-8},{"f":25,"s":"Stage II","p":-12,"l":-13.5,"h":-10.5},{"f":28,"s":"Stage II","p":-14,"l":-15.5,"h":-12.5},{"f":30,"s":"Stage II","p":-15,"l":-16.5,"h":-13.5},{"f":32,"s":"Stage II","p":-16.5,"l":-18,"h":-15},{"f":35,"s":"Stage II","p":-18.5,"l":-20,"h":-17},{"f":38,"s":"Stage II","p":-20.5,"l":-22,"h":-19},{"f":40,"s":"Stage II","p":-22.5,"l":-24,"h":-21},
{"f":0,"s":"Stage III","p":18,"l":14,"h":21},{"f":1,"s":"Stage III","p":20,"l":16,"h":23},{"f":2,"s":"Stage III","p":14,"l":11,"h":17},{"f":3,"s":"Stage III","p":8,"l":6,"h":10},{"f":4,"s":"Stage III","p":4,"l":2,"h":6},{"f":6,"s":"Stage III","p":1.5,"l":-0.5,"h":3.5},{"f":8,"s":"Stage III","p":-0.5,"l":-3,"h":2},{"f":10,"s":"Stage III","p":0,"l":-2,"h":2.5},{"f":12,"s":"Stage III","p":0,"l":-2,"h":2},{"f":15,"s":"Stage III","p":-2.5,"l":-4.5,"h":0},{"f":18,"s":"Stage III","p":-6,"l":-7.5,"h":-4},{"f":20,"s":"Stage III","p":-8,"l":-9.5,"h":-6.5},{"f":22,"s":"Stage III","p":-9.5,"l":-11,"h":-8},{"f":25,"s":"Stage III","p":-12,"l":-13.5,"h":-10.5},{"f":28,"s":"Stage III","p":-14,"l":-15.5,"h":-12.5},{"f":30,"s":"Stage III","p":-15,"l":-16.5,"h":-13.5},{"f":32,"s":"Stage III","p":-16.5,"l":-18,"h":-15},{"f":35,"s":"Stage III","p":-18.5,"l":-20,"h":-17},{"f":38,"s":"Stage III","p":-21,"l":-22.5,"h":-19.5},{"f":40,"s":"Stage III","p":-23,"l":-25,"h":-21}
],
"K":[
{"f":0,"s":"Stage I","p":18,"l":15,"h":21},{"f":1,"s":"Stage I","p":21,"l":18,"h":24},{"f":2,"s":"Stage I","p":23,"l":20,"h":26},{"f":3,"s":"Stage I","p":19,"l":16,"h":22},{"f":4,"s":"Stage I","p":14,"l":12,"h":17},{"f":6,"s":"Stage I","p":6,"l":4,"h":8},{"f":8,"s":"Stage I","p":3,"l":1,"h":5},{"f":10,"s":"Stage I","p":2,"l":0,"h":4},{"f":12,"s":"Stage I","p":1,"l":-1,"h":3},{"f":15,"s":"Stage I","p":0,"l":-2,"h":2},{"f":18,"s":"Stage I","p":-0.5,"l":-2.5,"h":1.5},{"f":20,"s":"Stage I","p":-1,"l":-3,"h":1},{"f":22,"s":"Stage I","p":-2,"l":-4,"h":0},{"f":25,"s":"Stage I","p":-4,"l":-6,"h":-2},{"f":28,"s":"Stage I","p":-9,"l":-11,"h":-7},{"f":30,"s":"Stage I","p":-10,"l":-12,"h":-8},{"f":32,"s":"Stage I","p":-11,"l":-13,"h":-9},{"f":35,"s":"Stage I","p":-13,"l":-15,"h":-11},{"f":38,"s":"Stage I","p":-14,"l":-16,"h":-12},{"f":40,"s":"Stage I","p":-16.5,"l":-18.5,"h":-14.5},
{"f":0,"s":"Stage II","p":12,"l":9,"h":15},{"f":1,"s":"Stage II","p":15,"l":12,"h":18},{"f":2,"s":"Stage II","p":13,"l":10,"h":16},{"f":3,"s":"Stage II","p":10,"l":7,"h":13},{"f":4,"s":"Stage II","p":8,"l":6,"h":11},{"f":6,"s":"Stage II","p":5,"l":3,"h":7},{"f":8,"s":"Stage II","p":3,"l":1,"h":5},{"f":10,"s":"Stage II","p":2.5,"l":0.5,"h":4.5},{"f":12,"s":"Stage II","p":2,"l":0,"h":4},{"f":15,"s":"Stage II","p":1.5,"l":-0.5,"h":3.5},{"f":18,"s":"Stage II","p":1,"l":-1,"h":3},{"f":20,"s":"Stage II","p":0.5,"l":-1.5,"h":2.5},{"f":22,"s":"Stage II","p":-1,"l":-3,"h":1},{"f":25,"s":"Stage II","p":-4,"l":-6,"h":-2},{"f":28,"s":"Stage II","p":-8.5,"l":-10.5,"h":-6.5},{"f":30,"s":"Stage II","p":-10,"l":-12,"h":-8},{"f":32,"s":"Stage II","p":-11.5,"l":-13.5,"h":-9.5},{"f":35,"s":"Stage II","p":-13.5,"l":-15.5,"h":-11.5},{"f":38,"s":"Stage II","p":-15,"l":-17,"h":-13},{"f":40,"s":"Stage II","p":-17,"l":-19,"h":-15},
{"f":0,"s":"Stage III","p":9,"l":6,"h":12},{"f":1,"s":"Stage III","p":11,"l":8,"h":15},{"f":2,"s":"Stage III","p":9,"l":6,"h":13},{"f":3,"s":"Stage III","p":7,"l":4,"h":11},{"f":4,"s":"Stage III","p":6.5,"l":4,"h":9},{"f":6,"s":"Stage III","p":4.5,"l":2.5,"h":6.5},{"f":8,"s":"Stage III","p":3,"l":1,"h":5},{"f":10,"s":"Stage III","p":2.5,"l":0.5,"h":4.5},{"f":12,"s":"Stage III","p":2,"l":0,"h":4},{"f":15,"s":"Stage III","p":1,"l":-1,"h":3},{"f":18,"s":"Stage III","p":0.5,"l":-1.5,"h":2.5},{"f":20,"s":"Stage III","p":0,"l":-2,"h":2},{"f":22,"s":"Stage III","p":-1.5,"l":-3.5,"h":0.5},{"f":25,"s":"Stage III","p":-5,"l":-7,"h":-3},{"f":28,"s":"Stage III","p":-9,"l":-11,"h":-7},{"f":30,"s":"Stage III","p":-10.5,"l":-12.5,"h":-8.5},{"f":32,"s":"Stage III","p":-12,"l":-14,"h":-10},{"f":35,"s":"Stage III","p":-13.5,"l":-15.5,"h":-11.5},{"f":38,"s":"Stage III","p":-15,"l":-17,"h":-13},{"f":40,"s":"Stage III","p":-17,"l":-19,"h":-15}
]
},
"resolve":{"scale":{"color":"independent"},"legend":{"color":"independent"}},
"vconcat":[
{"hconcat":[
{"width":95,"height":77,
"encoding":{"x":{"field":"t","type":"quantitative","scale":{"domain":[1,10],"nice":false},"axis":{"values":[1,2,3,4,5,6,7,8,9,10],"title":"Time (s)","zindex":1}},"y":{"field":"f","type":"quantitative","scale":{"domain":[0,30],"nice":false},"axis":{"values":[0,5,10,15,20,25,30],"title":"Frequency (Hz)","zindex":1}}},
"layer":[
{"data":{"values":[{"t":-1.08,"u":10.76,"f":35.06,"e":-7.4},{"t":-1.08,"u":10.76,"f":48.7,"e":38.96}]},"mark":{"type":"rect","color":"#dce9f4"},"encoding":{"x2":{"field":"u"},"y2":{"field":"e"}}},
{"data":{"name":"A"},"mark":"rect","encoding":{"x2":{"field":"u"},"y2":{"field":"e"},"color":{"field":"v","type":"quantitative","scale":{"domain":[-10,20]},"legend":null}}},
{"data":{"values":[{"t":1,"u":10,"f":0,"e":30}]},"mark":{"type":"rect","fillOpacity":0,"stroke":"#111","strokeWidth":1},"encoding":{"x2":{"field":"u"},"y2":{"field":"e"}}},
{"data":{"values":[{"t":-0.42,"f":31.6,"l":"A"}]},"mark":{"type":"text","fontSize":10},"encoding":{"text":{"field":"l"}}},
{"data":{"values":[{"t":4.84,"f":43.8,"l":"Propofol"}]},"mark":{"type":"text","fontSize":13},"encoding":{"text":{"field":"l"}}},
{"data":{"values":[{"t":-3.17,"f":14.4,"l":"Stage I"}]},"mark":{"type":"text","fontSize":13,"angle":270},"encoding":{"text":{"field":"l"}}},
{"data":{"values":[{"t":-1.37,"u":40.7,"f":-12.3}]},"mark":{"type":"rule","strokeDash":[4,2],"strokeWidth":1.5,"color":"#222"},"encoding":{"x2":{"field":"u"}}}
]},
{"width":96,"height":77,
"encoding":{"x":{"field":"t","type":"quantitative","scale":{"domain":[1,10],"nice":false},"axis":{"values":[1,2,3,4,5,6,7,8,9,10],"title":"Time (s)","zindex":1}},"y":{"field":"f","type":"quantitative","scale":{"domain":[0,30],"nice":false},"axis":{"values":[0,5,10,15,20,25,30],"title":null,"zindex":1}}},
"layer":[
{"data":{"values":[{"t":-0.97,"u":10.84,"f":35.06,"e":-7.4},{"t":-1.16,"u":10.56,"f":48.7,"e":38.96}]},"mark":{"type":"rect","color":"#fadbe8"},"encoding":{"x2":{"field":"u"},"y2":{"field":"e"}}},
{"data":{"name":"B"},"mark":"rect","encoding":{"x2":{"field":"u"},"y2":{"field":"e"},"color":{"field":"v","type":"quantitative","scale":{"domain":[-10,20]},"legend":null}}},
{"data":{"values":[{"t":1,"u":10,"f":0,"e":30}]},"mark":{"type":"rect","fillOpacity":0,"stroke":"#111","strokeWidth":1},"encoding":{"x2":{"field":"u"},"y2":{"field":"e"}}},
{"data":{"values":[{"t":-0.22,"f":31.9,"l":"B"}]},"mark":{"type":"text","fontSize":10},"encoding":{"text":{"field":"l"}}},
{"data":{"values":[{"t":4.66,"f":43.8,"l":"Thiopental"}]},"mark":{"type":"text","fontSize":13},"encoding":{"text":{"field":"l"}}}
]},
{"width":103,"height":79,
"encoding":{"x":{"field":"f","type":"quantitative","scale":{"domain":[0,40],"nice":false},"axis":{"values":[0,5,10,15,20,25,30,35,40],"title":"Frequency(Hz)","grid":true,"domainWidth":1.5}},"y":{"field":"p","type":"quantitative","scale":{"domain":[-30,30],"nice":false},"axis":{"values":[-30,-20,-10,0,10,20,30],"title":"Power (dB)","grid":true,"domainWidth":1.5}}},
"layer":[
{"data":{"values":[{"f":3.7,"u":7.3,"p":-30,"e":-27.5},{"f":19.2,"u":31.4,"p":-30,"e":-27.5},{"f":32,"u":33.4,"p":-30,"e":-27.5}]},"mark":{"type":"rect","color":"#1f6fa8"},"encoding":{"x2":{"field":"u"},"y2":{"field":"e"}}},
{"data":{"name":"C"},"mark":{"type":"area","opacity":0.35,"interpolate":"monotone"},"encoding":{"y":{"field":"l","type":"quantitative","scale":{"domain":[-30,30],"nice":false},"axis":{"values":[-30,-20,-10,0,10,20,30],"title":"Power (dB)","grid":true,"domainWidth":1.5}},"y2":{"field":"h"},"color":{"field":"s","type":"nominal","scale":{"domain":["Propofol","Thiopental"],"range":["#1f6ea5","#d2603a"]},"legend":{"title":null,"orient":"top-right","offset":2,"fillColor":"white","strokeColor":"#444","padding":2,"labelFontSize":4.5,"symbolType":"M-1,-0.45H1V0.45H-1Z","symbolSize":120,"symbolStrokeWidth":0,"rowPadding":2,"labelOffset":2}}}},
{"data":{"name":"C"},"mark":{"type":"line","strokeWidth":1.5,"interpolate":"monotone"},"encoding":{"color":{"field":"s","type":"nominal","scale":{"domain":["Propofol","Thiopental"],"range":["#1f6ea5","#d2603a"]},"legend":null}}},
{"data":{"values":[{"f":-5.9,"p":34.6,"l":"C"}]},"mark":{"type":"text","fontSize":10},"encoding":{"text":{"field":"l"}}}
]}
],"spacing":42,"bounds":"flush"},
{"hconcat":[
{"width":95,"height":77,
"encoding":{"x":{"field":"t","type":"quantitative","scale":{"domain":[1,10],"nice":false},"axis":{"values":[1,2,3,4,5,6,7,8,9,10],"title":"Time (s)","zindex":1}},"y":{"field":"f","type":"quantitative","scale":{"domain":[0,30],"nice":false},"axis":{"values":[0,5,10,15,20,25,30],"title":"Frequency (Hz)","zindex":1}}},
"layer":[
{"data":{"values":[{"t":-1.08,"u":10.76,"f":34.3,"e":-8.2}]},"mark":{"type":"rect","color":"#dce9f4"},"encoding":{"x2":{"field":"u"},"y2":{"field":"e"}}},
{"data":{"name":"D"},"mark":"rect","encoding":{"x2":{"field":"u"},"y2":{"field":"e"},"color":{"field":"v","type":"quantitative","scale":{"domain":[-10,20]},"legend":null}}},
{"data":{"values":[{"t":1,"u":10,"f":0,"e":30}]},"mark":{"type":"rect","fillOpacity":0,"stroke":"#111","strokeWidth":1},"encoding":{"x2":{"field":"u"},"y2":{"field":"e"}}},
{"data":{"values":[{"t":-0.42,"f":31.9,"l":"D"}]},"mark":{"type":"text","fontSize":10},"encoding":{"text":{"field":"l"}}},
{"data":{"values":[{"t":-3.17,"f":15.6,"l":"Stage II"}]},"mark":{"type":"text","fontSize":13,"angle":270},"encoding":{"text":{"field":"l"}}},
{"data":{"values":[{"t":-1.37,"u":40.7,"f":-12.5}]},"mark":{"type":"rule","strokeDash":[4,2],"strokeWidth":1.5,"color":"#222"},"encoding":{"x2":{"field":"u"}}}
]},
{"width":96,"height":77,
"encoding":{"x":{"field":"t","type":"quantitative","scale":{"domain":[1,10],"nice":false},"axis":{"values":[1,2,3,4,5,6,7,8,9,10],"title":"Time (s)","zindex":1}},"y":{"field":"f","type":"quantitative","scale":{"domain":[0,30],"nice":false},"axis":{"values":[0,5,10,15,20,25,30],"title":null,"zindex":1}}},
"layer":[
{"data":{"values":[{"t":-0.97,"u":10.84,"f":35.06,"e":-7.8}]},"mark":{"type":"rect","color":"#fadbe8"},"encoding":{"x2":{"field":"u"},"y2":{"field":"e"}}},
{"data":{"name":"E"},"mark":"rect","encoding":{"x2":{"field":"u"},"y2":{"field":"e"},"color":{"field":"v","type":"quantitative","scale":{"domain":[-10,20]},"legend":{"title":null,"orient":"none","legendX":265,"legendY":-7,"gradientLength":97,"gradientThickness":6,"gradientStrokeColor":"#222","values":[-10,-5,0,5,10,15,20],"labelFontSize":8.5,"labelOffset":3,"labelColor":"#222","labelExpr":"datum.value"}}}},
{"data":{"values":[{"t":1,"u":10,"f":0,"e":30}]},"mark":{"type":"rect","fillOpacity":0,"stroke":"#111","strokeWidth":1},"encoding":{"x2":{"field":"u"},"y2":{"field":"e"}}},
{"data":{"values":[{"t":-0.22,"f":31.9,"l":"E"}]},"mark":{"type":"text","fontSize":10},"encoding":{"text":{"field":"l"}}}
]},
{"width":103,"height":79,
"encoding":{"x":{"field":"f","type":"quantitative","scale":{"domain":[0,40],"nice":false},"axis":{"values":[0,5,10,15,20,25,30,35,40],"title":"Frequency(Hz)","grid":true,"domainWidth":1.5}},"y":{"field":"p","type":"quantitative","scale":{"domain":[-30,30],"nice":false},"axis":{"values":[-30,-20,-10,0,10,20,30],"title":"Power (dB)","grid":true,"domainWidth":1.5}}},
"layer":[
{"data":{"values":[{"f":0,"u":3,"p":-30,"e":-27},{"f":5,"u":5.5,"p":-30,"e":-27},{"f":6,"u":10.5,"p":-30,"e":-27},{"f":14,"u":15.2,"p":-30,"e":-27},{"f":16,"u":40,"p":-30,"e":-27}]},"mark":{"type":"rect","color":"#1f6fa8"},"encoding":{"x2":{"field":"u"},"y2":{"field":"e"}}},
{"data":{"name":"F"},"mark":{"type":"area","opacity":0.35,"interpolate":"monotone"},"encoding":{"y":{"field":"l","type":"quantitative","scale":{"domain":[-30,30],"nice":false},"axis":{"values":[-30,-20,-10,0,10,20,30],"title":"Power (dB)","grid":true,"domainWidth":1.5}},"y2":{"field":"h"},"color":{"field":"s","type":"nominal","scale":{"domain":["Propofol","Thiopental"],"range":["#1f6ea5","#d2603a"]},"legend":{"title":null,"orient":"top-right","offset":2,"fillColor":"white","strokeColor":"#444","padding":2,"labelFontSize":4.5,"symbolType":"M-1,-0.45H1V0.45H-1Z","symbolSize":120,"symbolStrokeWidth":0,"rowPadding":2,"labelOffset":2}}}},
{"data":{"name":"F"},"mark":{"type":"line","strokeWidth":1.5,"interpolate":"monotone"},"encoding":{"color":{"field":"s","type":"nominal","scale":{"domain":["Propofol","Thiopental"],"range":["#1f6ea5","#d2603a"]},"legend":null}}},
{"data":{"values":[{"f":-5.5,"p":34.6,"l":"F"}]},"mark":{"type":"text","fontSize":10},"encoding":{"text":{"field":"l"}}}
]}
],"spacing":42,"bounds":"flush"},
{"hconcat":[
{"width":95,"height":80,
"encoding":{"x":{"field":"t","type":"quantitative","scale":{"domain":[1,10],"nice":false},"axis":{"values":[1,2,3,4,5,6,7,8,9,10],"title":"Time (s)","zindex":1}},"y":{"field":"f","type":"quantitative","scale":{"domain":[0,30],"nice":false,"range":[80,4]},"axis":{"values":[0,5,10,15,20,25,30],"title":"Frequency (Hz)","zindex":1}}},
"layer":[
{"data":{"values":[{"t":-1.08,"u":10.76,"f":36.7,"e":-6.7}]},"mark":{"type":"rect","color":"#dce9f4"},"encoding":{"x2":{"field":"u"},"y2":{"field":"e"}}},
{"data":{"name":"G"},"mark":"rect","encoding":{"x2":{"field":"u"},"y2":{"field":"e"},"color":{"field":"v","type":"quantitative","scale":{"domain":[-10,20]},"legend":null}}},
{"data":{"values":[{"t":1,"u":10,"f":0,"e":30}]},"mark":{"type":"rect","fillOpacity":0,"stroke":"#111","strokeWidth":1},"encoding":{"x2":{"field":"u"},"y2":{"field":"e"}}},
{"data":{"values":[{"t":-0.42,"f":33.2,"l":"G"}]},"mark":{"type":"text","fontSize":10},"encoding":{"text":{"field":"l"}}},
{"data":{"values":[{"t":-3.17,"f":16.6,"l":"Stage III"}]},"mark":{"type":"text","fontSize":13,"angle":270},"encoding":{"text":{"field":"l"}}},
{"data":{"values":[{"t":-1.37,"u":40.7,"f":-11.05}]},"mark":{"type":"rule","strokeDash":[4,2],"strokeWidth":1.5,"color":"#222"},"encoding":{"x2":{"field":"u"}}}
]},
{"width":96,"height":80,
"encoding":{"x":{"field":"t","type":"quantitative","scale":{"domain":[1,10],"nice":false},"axis":{"values":[1,2,3,4,5,6,7,8,9,10],"title":"Time (s)","zindex":1}},"y":{"field":"f","type":"quantitative","scale":{"domain":[0,30],"nice":false,"range":[80,4]},"axis":{"values":[0,5,10,15,20,25,30],"title":null,"zindex":1}}},
"layer":[
{"data":{"values":[{"t":-1.06,"u":10.75,"f":36.3,"e":-7.1}]},"mark":{"type":"rect","color":"#fadbe8"},"encoding":{"x2":{"field":"u"},"y2":{"field":"e"}}},
{"data":{"name":"H"},"mark":"rect","encoding":{"x2":{"field":"u"},"y2":{"field":"e"},"color":{"field":"v","type":"quantitative","scale":{"domain":[-10,20]},"legend":null}}},
{"data":{"values":[{"t":1,"u":10,"f":0,"e":30}]},"mark":{"type":"rect","fillOpacity":0,"stroke":"#111","strokeWidth":1},"encoding":{"x2":{"field":"u"},"y2":{"field":"e"}}},
{"data":{"values":[{"t":-0.22,"f":33.2,"l":"H"}]},"mark":{"type":"text","fontSize":10},"encoding":{"text":{"field":"l"}}}
]},
{"width":103,"height":79,
"encoding":{"x":{"field":"f","type":"quantitative","scale":{"domain":[0,40],"nice":false},"axis":{"values":[0,5,10,15,20,25,30,35,40],"title":"Frequency(Hz)","grid":true,"domainWidth":1.5}},"y":{"field":"p","type":"quantitative","scale":{"domain":[-30,30],"nice":false},"axis":{"values":[-30,-20,-10,0,10,20,30],"title":"Power (dB)","grid":true,"domainWidth":1.5}}},
"layer":[
{"data":{"values":[{"f":0.5,"u":3.3,"p":-30,"e":-27.5},{"f":5,"u":5.5,"p":-30,"e":-27.5},{"f":7,"u":8.3,"p":-30,"e":-27.5},{"f":10,"u":10.5,"p":-30,"e":-27.5},{"f":16,"u":35,"p":-30,"e":-27.5},{"f":36,"u":36.8,"p":-30,"e":-27.5}]},"mark":{"type":"rect","color":"#1f6fa8"},"encoding":{"x2":{"field":"u"},"y2":{"field":"e"}}},
{"data":{"name":"I"},"mark":{"type":"area","opacity":0.35,"interpolate":"monotone"},"encoding":{"y":{"field":"l","type":"quantitative","scale":{"domain":[-30,30],"nice":false},"axis":{"values":[-30,-20,-10,0,10,20,30],"title":"Power (dB)","grid":true,"domainWidth":1.5}},"y2":{"field":"h"},"color":{"field":"s","type":"nominal","scale":{"domain":["Propofol","Thiopental"],"range":["#1f6ea5","#d2603a"]},"legend":{"title":null,"orient":"top-right","offset":2,"fillColor":"white","strokeColor":"#444","padding":2,"labelFontSize":4.5,"symbolType":"M-1,-0.45H1V0.45H-1Z","symbolSize":120,"symbolStrokeWidth":0,"rowPadding":2,"labelOffset":2}}}},
{"data":{"name":"I"},"mark":{"type":"line","strokeWidth":1.5,"interpolate":"monotone"},"encoding":{"color":{"field":"s","type":"nominal","scale":{"domain":["Propofol","Thiopental"],"range":["#1f6ea5","#d2603a"]},"legend":null}}},
{"data":{"values":[{"f":-4.5,"p":33,"l":"I"}]},"mark":{"type":"text","fontSize":10},"encoding":{"text":{"field":"l"}}}
]}
],"spacing":42,"bounds":"flush"},
{"hconcat":[
{"width":96,"height":79,
"encoding":{"x":{"field":"f","type":"quantitative","scale":{"domain":[0,40],"nice":false},"axis":{"values":[0,5,10,15,20,25,30,35,40],"title":"Frequency(Hz)","grid":true,"domainWidth":1.5,"titlePadding":0,"labelPadding":0}},"y":{"field":"p","type":"quantitative","scale":{"domain":[-30,30],"nice":false},"axis":{"values":[-30,-20,-10,0,10,20,30],"title":"Power (dB)","grid":true,"domainWidth":1.5,"labelFontSize":7,"titleFontSize":7}}},
"layer":[
{"data":{"name":"J"},"mark":{"type":"area","opacity":0.3,"interpolate":"monotone"},"encoding":{"y":{"field":"l","type":"quantitative","scale":{"domain":[-30,30],"nice":false},"axis":{"values":[-30,-20,-10,0,10,20,30],"title":"Power (dB)","grid":true,"domainWidth":1.5,"labelFontSize":7,"titleFontSize":7}},"y2":{"field":"h"},"color":{"field":"s","type":"nominal","scale":{"domain":["Stage I","Stage II","Stage III"],"range":["#1f6ea5","#d2503a","#7a2a55"]},"legend":{"title":null,"orient":"top-right","offset":2,"fillColor":"white","strokeColor":"#444","padding":2,"labelFontSize":4.5,"symbolType":"M-1,-0.45H1V0.45H-1Z","symbolSize":120,"symbolStrokeWidth":0,"rowPadding":2,"labelOffset":2}}}},
{"data":{"name":"J"},"mark":{"type":"line","strokeWidth":1.4,"interpolate":"monotone"},"encoding":{"color":{"field":"s","type":"nominal","scale":{"domain":["Stage I","Stage II","Stage III"],"range":["#1f6ea5","#d2503a","#7a2a55"]},"legend":null}}},
{"data":{"values":[{"f":-6.25,"p":34.5,"l":"J"}]},"mark":{"type":"text","fontSize":10},"encoding":{"text":{"field":"l"}}}
]},
{"width":95,"height":79,
"encoding":{"x":{"field":"f","type":"quantitative","scale":{"domain":[0,40],"nice":false},"axis":{"values":[0,5,10,15,20,25,30,35,40],"title":"Frequency(Hz)","grid":true,"domainWidth":1.5,"titlePadding":0,"labelPadding":0}},"y":{"field":"p","type":"quantitative","scale":{"domain":[-30,30],"nice":false},"axis":{"values":[-30,-20,-10,0,10,20,30],"title":null,"grid":true,"domainWidth":1.5,"labelFontSize":7}}},
"layer":[
{"data":{"name":"K"},"mark":{"type":"area","opacity":0.3,"interpolate":"monotone"},"encoding":{"y":{"field":"l","type":"quantitative","scale":{"domain":[-30,30],"nice":false},"axis":{"values":[-30,-20,-10,0,10,20,30],"title":null,"grid":true,"domainWidth":1.5,"labelFontSize":7}},"y2":{"field":"h"},"color":{"field":"s","type":"nominal","scale":{"domain":["Stage I","Stage II","Stage III"],"range":["#1f6ea5","#d2503a","#7a2a55"]},"legend":{"title":null,"orient":"top-right","offset":2,"fillColor":"white","strokeColor":"#444","padding":2,"labelFontSize":4.5,"symbolType":"M-1,-0.45H1V0.45H-1Z","symbolSize":120,"symbolStrokeWidth":0,"rowPadding":2,"labelOffset":2}}}},
{"data":{"name":"K"},"mark":{"type":"line","strokeWidth":1.4,"interpolate":"monotone"},"encoding":{"color":{"field":"s","type":"nominal","scale":{"domain":["Stage I","Stage II","Stage III"],"range":["#1f6ea5","#d2503a","#7a2a55"]},"legend":null}}},
{"data":{"values":[{"f":-6.7,"p":34.5,"l":"K"}]},"mark":{"type":"text","fontSize":10},"encoding":{"text":{"field":"l"}}}
]}
],"spacing":44,"bounds":"flush","resolve":{"scale":{"color":"independent"},"legend":{"color":"independent"}}}
],"spacing":12
}
